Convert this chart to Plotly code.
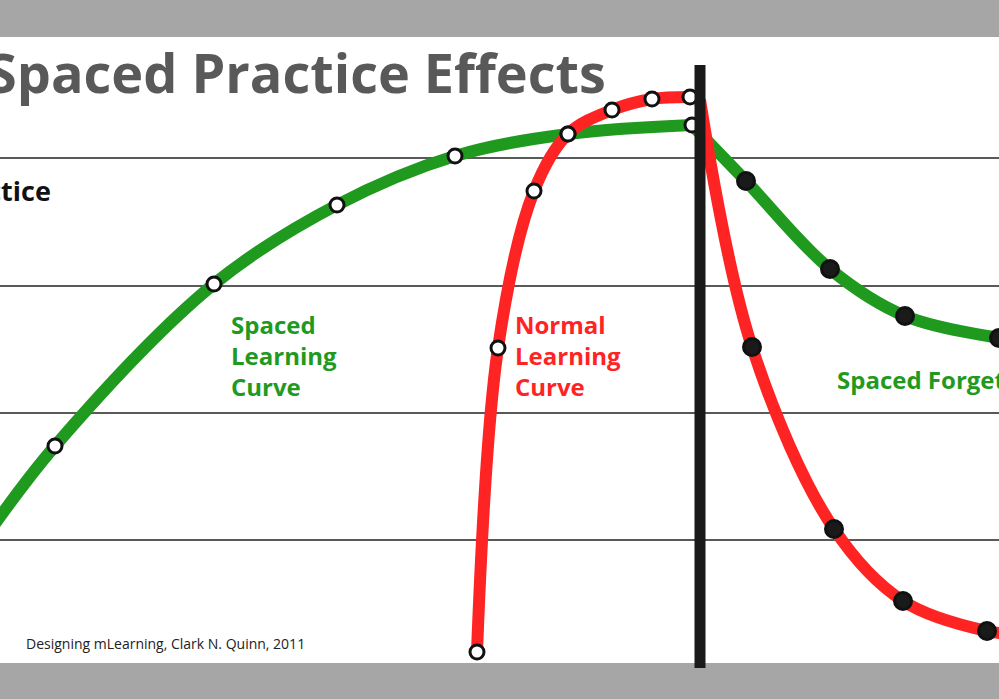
import plotly.graph_objects as go

# Data (pixel-space units: x left->right, y top->bottom)
spaced_learn_x = [-20, 55, 214, 337, 455, 568, 692]
spaced_learn_y = [545, 446, 284, 205, 156, 134, 125]
spaced_forget_x = [692, 746, 830, 905, 999, 1030]
spaced_forget_y = [125, 181, 269, 316, 338, 342]
normal_learn_x = [477, 498, 534, 568, 612, 652, 690]
normal_learn_y = [652, 348, 191, 134, 110, 99, 97]
normal_forget_x = [700, 752, 834, 903, 987, 1020]
normal_forget_y = [100, 347, 529, 601, 631, 634]
grid_y = [158, 286, 413, 540]

GREEN = "#1f9a1f"
RED = "#ff2424"
FONT = "Open Sans"

fig = go.Figure()

def line(x, y, c):
    fig.add_trace(go.Scatter(x=x, y=y, mode="lines", line=dict(color=c, width=12, shape="spline", smoothing=1.0),
                             hoverinfo="skip", showlegend=False))

def marks(x, y, fill):
    fig.add_trace(go.Scatter(x=x, y=y, mode="markers",
                             marker=dict(size=14 if fill == "white" else 17, color=fill, line=dict(color="#111", width=3)),
                             hoverinfo="skip", showlegend=False))

line(spaced_learn_x, spaced_learn_y, GREEN)
line(spaced_forget_x, spaced_forget_y, GREEN)
line(normal_learn_x, normal_learn_y, RED)
line(normal_forget_x, normal_forget_y, RED)
marks(spaced_learn_x[1:], spaced_learn_y[1:], "white")
marks(normal_learn_x, normal_learn_y, "white")
marks(spaced_forget_x[1:-1], spaced_forget_y[1:-1], "#1a1a1a")
marks(normal_forget_x[1:-1], normal_forget_y[1:-1], "#1a1a1a")

shapes = [dict(type="line", xref="x", yref="y", x0=0, x1=999, y0=g, y1=g, line=dict(color="#222", width=1.5), layer="below") for g in grid_y]
shapes += [
    dict(type="rect", xref="x", yref="y", x0=0, x1=999, y0=0, y1=37, fillcolor="#a6a6a6", line_width=0),
    dict(type="rect", xref="x", yref="y", x0=0, x1=999, y0=663, y1=699, fillcolor="#a6a6a6", line_width=0),
    dict(type="line", xref="x", yref="y", x0=700, x1=700, y0=65, y1=668, line=dict(color="#1a1a1a", width=11)),
]

ann = [
    dict(x=608, y=72, text="<b>Spaced Practice Effects</b>", xanchor="right", font=dict(size=54, color="#595959")),
    dict(x=53, y=190, text="<b>Massed Practice</b>", xanchor="right", font=dict(size=27, color="#111")),
    dict(x=307, y=643, text="Designing mLearning, Clark N. Quinn, 2011", xanchor="right", font=dict(size=14, color="#222")),
    dict(x=229, y=355, text="<b>Spaced<br>Learning<br>Curve</b>", xanchor="left", align="left", font=dict(size=24, color=GREEN)),
    dict(x=513, y=355, text="<b>Normal<br>Learning<br>Curve</b>", xanchor="left", align="left", font=dict(size=24, color=RED)),
    dict(x=835, y=379, text="<b>Spaced Forgetting</b>", xanchor="left", font=dict(size=24, color=GREEN)),
]
for a in ann:
    a.update(xref="x", yref="y", showarrow=False, yanchor="middle")
    a["font"]["family"] = FONT

fig.update_layout(width=999, height=699, margin=dict(l=0, r=0, t=0, b=0),
                  paper_bgcolor="white", plot_bgcolor="white",
                  xaxis=dict(range=[0, 999], visible=False, fixedrange=True),
                  yaxis=dict(range=[699, 0], visible=False, fixedrange=True),
                  shapes=shapes, annotations=ann)
fig.write_html("out.html", config={"displayModeBar": False},
               post_script="document.body.style.margin='0';document.body.style.overflow='hidden';")
